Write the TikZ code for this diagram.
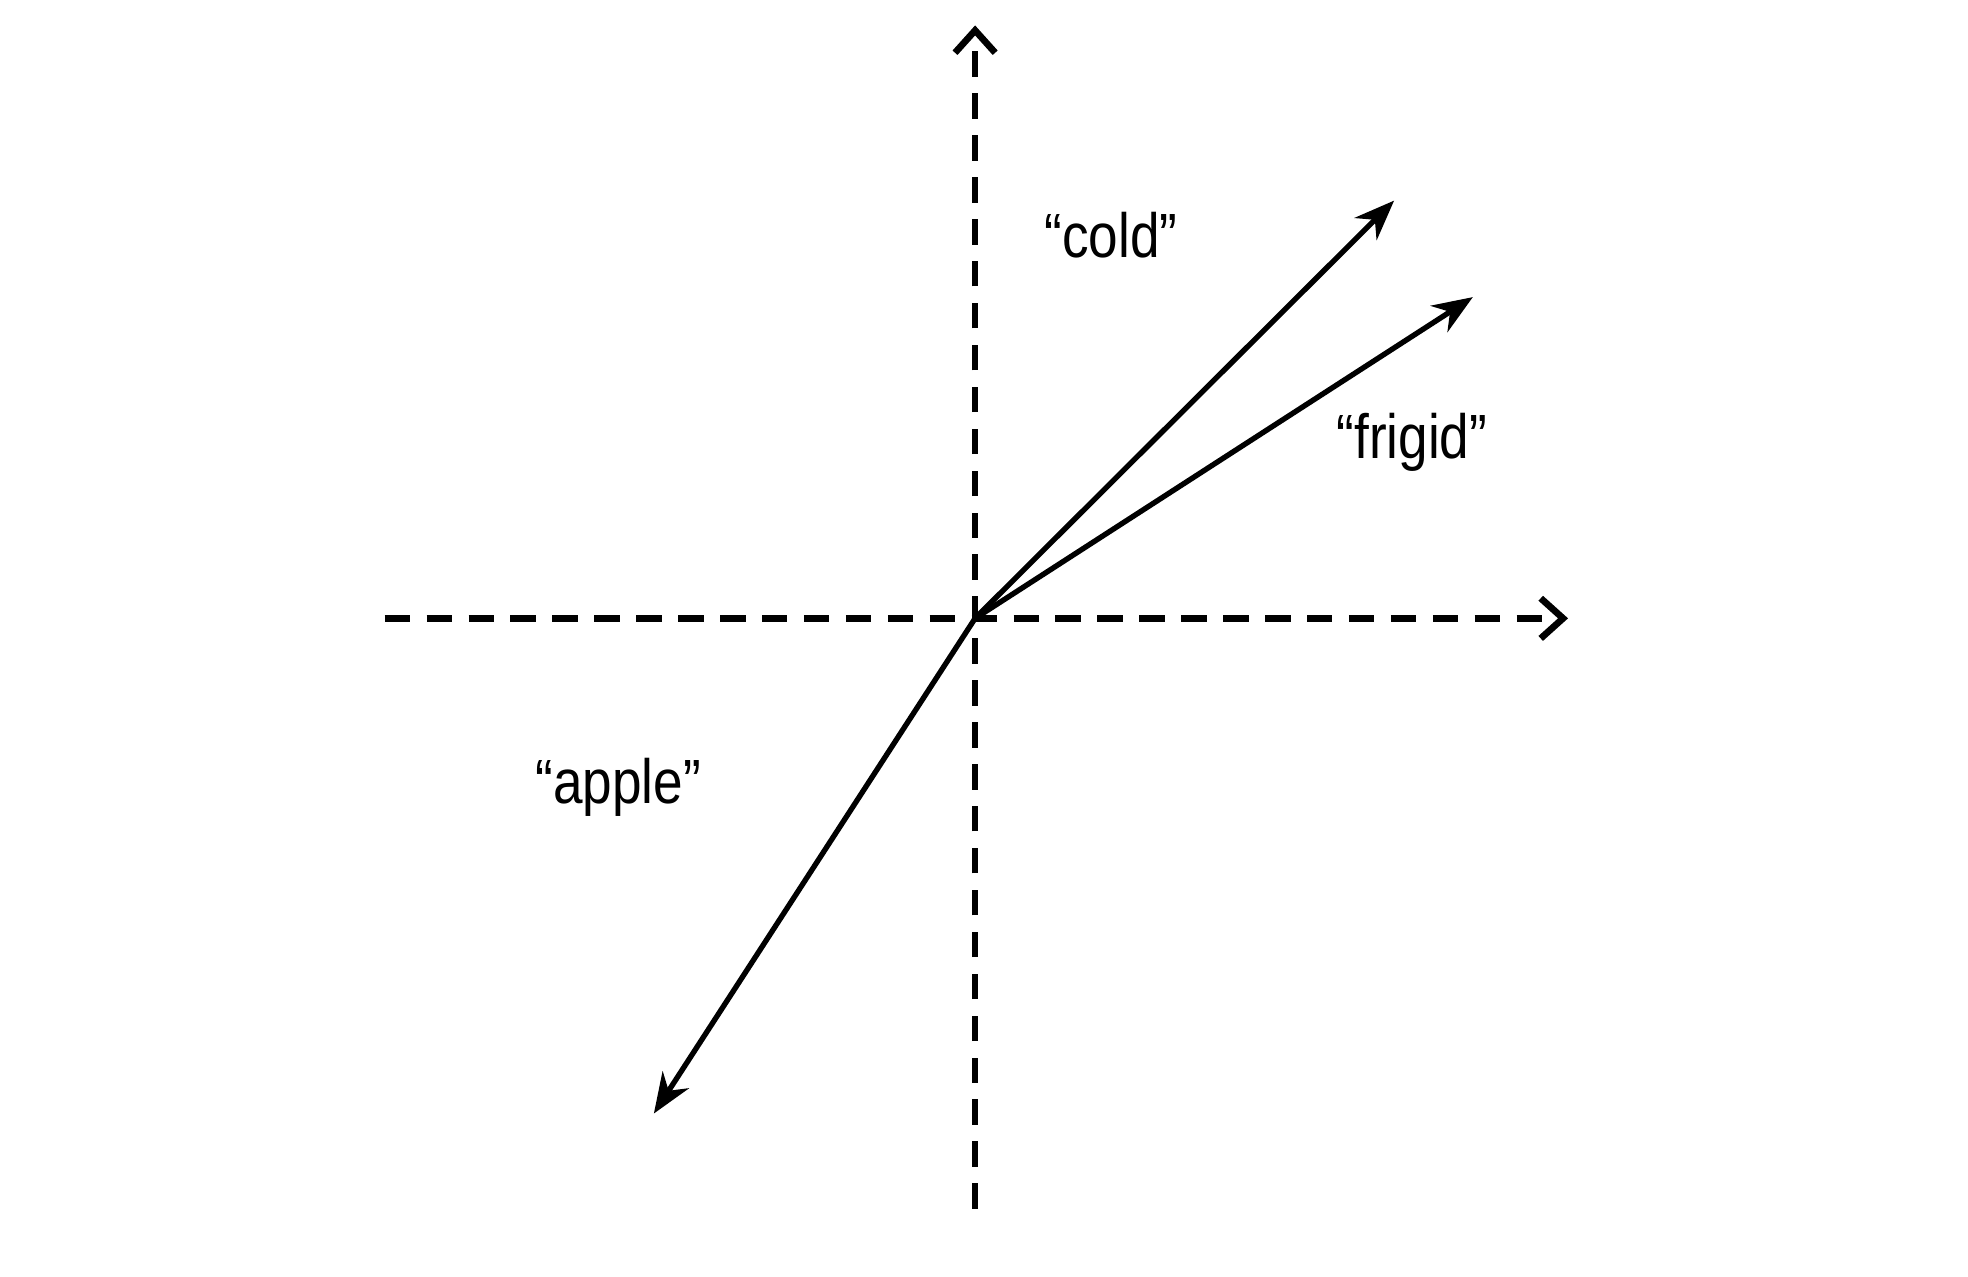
\documentclass[tikz,border=0pt]{standalone}
\usepackage{fontspec}
\setmainfont{Liberation Sans}
\usetikzlibrary{arrows.meta}
\begin{document}
\begin{tikzpicture}[x=0.01cm,y=-0.01cm,
  axis/.style={line width=1.5pt,dash pattern=on 0.2cm off 0.13cm,-{Straight Barb[length=5pt,width=9pt,line width=1.5pt]}},
  vec/.style={line width=1.2pt,-{Stealth[length=9pt,width=7pt]}},
  lbl/.style={font=\fontsize{14}{16}\selectfont,xscale=0.85}]
\useasboundingbox (0,0) rectangle (1550,1005);
\coordinate (o) at (768,487);
\coordinate (xl) at (303,487);
\coordinate (xr) at (1235,487);
\coordinate (yb) at (768,952);
\coordinate (yt) at (768,20);
\coordinate (c) at (1098,158);
\coordinate (f) at (1160,234);
\coordinate (a) at (515,877);
\draw[axis] (xl) -- (xr);
\draw[axis] (yb) -- (yt);
\draw[vec] (o) -- (c);
\draw[vec] (o) -- (f);
\draw[vec] (o) -- (a);
\node[lbl] (lc) at (875,185) {“cold”};
\node[lbl] (lf) at (1112,348) {“frigid”};
\node[lbl] (la) at (487,620) {“apple”};
\end{tikzpicture}
\end{document}
